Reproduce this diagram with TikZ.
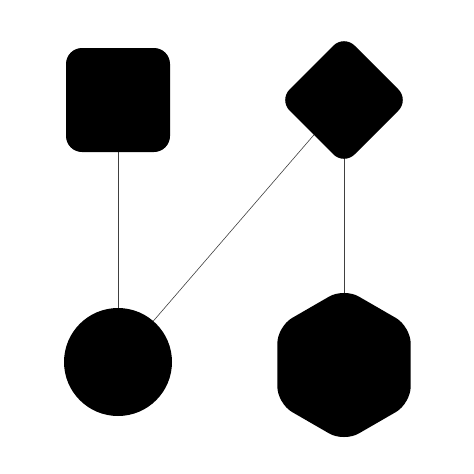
\documentclass[tikz,border=0pt]{standalone}
\usetikzlibrary{shapes.geometric,backgrounds}
\begin{document}
\begin{tikzpicture}[x=1pt,y=-1pt,
  blob/.style={fill=black,draw=none,inner sep=0pt,outer sep=0pt},
  link/.style={draw=black!75,line width=0.6pt}]
\useasboundingbox (0,0) rectangle (474,474);
\node[blob,rectangle,rounded corners=16pt,minimum width=104pt,minimum height=104pt] (sq) at (118,100) {};
\node[blob,diamond,rounded corners=15pt,minimum width=130pt,minimum height=130pt] (dm) at (344,100) {};
\node[blob,circle,minimum size=108pt] (ci) at (118,362) {};
\node[blob,regular polygon,regular polygon sides=6,shape border rotate=30,rounded corners=17pt,minimum size=154pt] (hx) at (344,365) {};
\begin{pgfonlayer}{background}
\draw[link] (sq.center) -- (ci.center);
\draw[link] (dm.center) -- (ci.center);
\draw[link] (dm.center) -- (hx.center);
\end{pgfonlayer}
\end{tikzpicture}
\end{document}
